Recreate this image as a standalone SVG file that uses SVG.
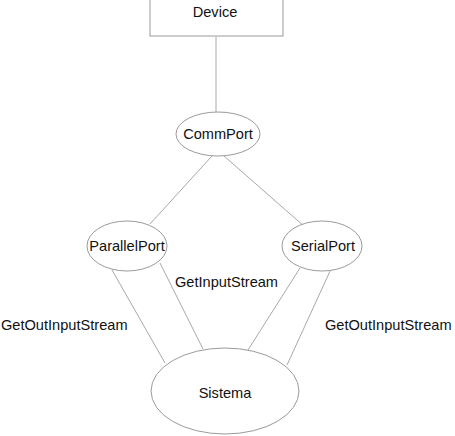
<svg xmlns="http://www.w3.org/2000/svg" width="455" height="436" viewBox="0 0 455 436">
<style>
.shape{fill:#fff;stroke:#9a9a9a;stroke-width:1}
.edge{stroke:#a8a8a8;stroke-width:1;fill:none}
text{font-family:"Liberation Sans",Arial,sans-serif;font-size:14.6px;fill:#111}
.c{text-anchor:middle}
</style>
<rect width="455" height="436" fill="#fff"/>
<g id="connectors">
<line class="edge" x1="216" y1="37" x2="216" y2="112"/>
<line class="edge" x1="212" y1="156" x2="150" y2="224"/>
<line class="edge" x1="224" y1="156" x2="305" y2="227"/>
<line class="edge" x1="112" y1="270" x2="165" y2="363"/>
<line class="edge" x1="160" y1="263" x2="203" y2="349"/>
<line class="edge" x1="300" y1="268" x2="248" y2="350"/>
<line class="edge" x1="331" y1="269" x2="287" y2="365"/>
</g>
<g id="device">
<rect class="shape" x="150" y="-1" width="133" height="37"/>
<text class="c" x="215" y="17">Device</text>
</g>
<g id="commport">
<ellipse class="shape" cx="218" cy="134" rx="42" ry="22"/>
<text class="c" x="218" y="139">CommPort</text>
</g>
<g id="parallelport">
<ellipse class="shape" cx="127" cy="246" rx="40" ry="25"/>
<text class="c" x="127" y="251">ParallelPort</text>
</g>
<g id="serialport">
<ellipse class="shape" cx="322" cy="246" rx="40" ry="25"/>
<text class="c" x="323" y="251">SerialPort</text>
</g>
<g id="sistema">
<ellipse class="shape" cx="225" cy="391" rx="74" ry="43"/>
<text class="c" x="225" y="398">Sistema</text>
</g>
<g id="labels">
<text x="1" y="330">GetOutInputStream</text>
<text x="175" y="287">GetInputStream</text>
<text x="325" y="330">GetOutInputStream</text>
</g>
</svg>
